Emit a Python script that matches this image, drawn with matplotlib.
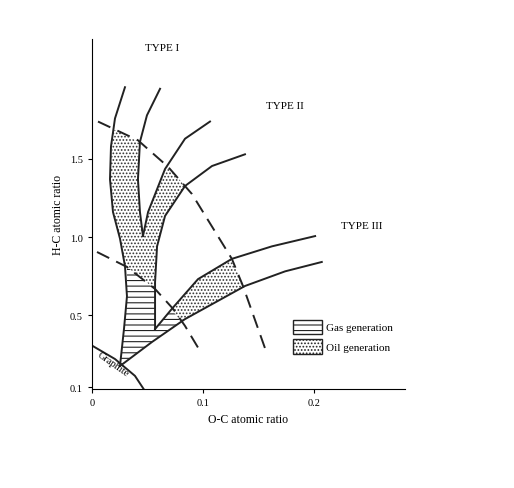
import matplotlib.pyplot as plt
from matplotlib.patches import Polygon, Patch

plt.rcParams['font.family'] = ['Liberation Serif', 'DejaVu Serif']
plt.rcParams['hatch.linewidth'] = 0.8

type1_left = [(0.0297, 1.96), (0.0207, 1.76), (0.0171, 1.58), (0.0162, 1.37), (0.0189, 1.16), (0.0252, 0.99),
              (0.0297, 0.814), (0.0315, 0.62), (0.0288, 0.41), (0.0252, 0.173)]
type1_right = [(0.0613, 1.95), (0.0495, 1.78), (0.0432, 1.61), (0.0414, 1.37), (0.0432, 1.16), (0.0459, 1.006)]
type2_upper = [(0.0459, 1.006), (0.0505, 1.16), (0.0658, 1.436), (0.0838, 1.63), (0.1063, 1.74)]
type2_lower = [(0.1378, 1.53), (0.1081, 1.455), (0.0838, 1.327), (0.0658, 1.135), (0.0586, 0.94), (0.0568, 0.71), (0.0568, 0.41)]
type3_upper = [(0.0568, 0.41), (0.072, 0.54), (0.0955, 0.73), (0.126, 0.86), (0.162, 0.94), (0.201, 1.006)]
type3_lower = [(0.0252, 0.173), (0.054, 0.327), (0.0838, 0.474), (0.1378, 0.686), (0.174, 0.78), (0.207, 0.84)]
graphite = [(0.001, 0.30), (0.0207, 0.218), (0.0387, 0.11), (0.0477, 0.013)]
outer_dash = [(0.0054, 1.74), (0.0414, 1.62), (0.0685, 1.45), (0.09, 1.276), (0.126, 0.86), (0.136, 0.686), (0.1577, 0.25)]
inner_dash = [(0.0045, 0.904), (0.0315, 0.808), (0.0568, 0.667), (0.073, 0.54), (0.0838, 0.43), (0.0973, 0.27)]

oil_zone_12 = [(0.0189, 1.69), (0.0162, 1.37), (0.0189, 1.16), (0.0252, 0.99), (0.0297, 0.814), (0.0315, 0.808),
               (0.0568, 0.667), (0.0568, 0.71), (0.0586, 0.94), (0.0658, 1.135), (0.0838, 1.327), (0.0865, 1.31),
               (0.0676, 1.45), (0.0505, 1.16), (0.0459, 1.006), (0.0432, 1.16), (0.0414, 1.37), (0.0423, 1.61)]
oil_zone_3 = [(0.072, 0.535), (0.0955, 0.73), (0.126, 0.86), (0.137, 0.686), (0.0802, 0.455)]
gas_zone = [(0.0315, 0.808), (0.0315, 0.62), (0.0288, 0.41), (0.0252, 0.173), (0.054, 0.327), (0.0802, 0.455),
            (0.072, 0.535), (0.0568, 0.41), (0.0568, 0.667)]

x_ticks = [0, 0.1, 0.2]
x_labels = ['0', '0.1', '0.2']
y_ticks = [0.038, 0.5, 1.0, 1.5]
y_labels = ['0.1', '0.5', '1.0', '1.5']

fig = plt.figure(figsize=(5.14, 4.89), dpi=100)
ax = fig.add_axes([0.179, 0.2025, 0.609, 0.716])
ax.set_xlim(0, 0.282)
ax.set_ylim(0.026, 2.27)
for s in ['top', 'right']:
    ax.spines[s].set_visible(False)

for poly in (oil_zone_12, oil_zone_3):
    ax.add_patch(Polygon(poly, closed=True, fill=False, hatch='.....', lw=0, color='#333'))
ax.add_patch(Polygon(gas_zone, closed=True, fill=False, hatch='---', lw=0, color='#222'))

for c in (type1_left, type1_right, type2_upper, type2_lower, type3_upper, type3_lower, graphite):
    ax.plot(*zip(*c), color='#222', lw=1.4)
for c in (outer_dash, inner_dash):
    ax.plot(*zip(*c), color='#222', lw=1.4, dashes=(7, 4))

ax.text(0.0631, 2.2, 'TYPE I', fontsize=8, ha='center')
ax.text(0.174, 1.83, 'TYPE II', fontsize=8, ha='center')
ax.text(0.243, 1.06, 'TYPE III', fontsize=8, ha='center')
ax.text(0.019, 0.19, 'Graphite', fontsize=7.5, rotation=-35, ha='center', va='center')

ax.set_xticks(x_ticks, x_labels, fontsize=7.5)
ax.set_yticks(y_ticks, y_labels, fontsize=7.5)
ax.tick_params(length=3)
ax.set_xlabel('O-C atomic ratio', fontsize=8.5)
ax.set_ylabel('H-C atomic ratio', fontsize=8.5)

handles = [Patch(facecolor='white', edgecolor='#222', hatch='---'),
           Patch(facecolor='white', edgecolor='#222', hatch='.....')]
fig.legend(handles, ['Gas generation', 'Oil generation'], loc='upper left', bbox_to_anchor=(0.55, 0.365),
           frameon=False, fontsize=8, handlelength=2.6, handleheight=1.6, labelspacing=0.5, handletextpad=0.4)

fig.savefig('out.png', dpi=100)
